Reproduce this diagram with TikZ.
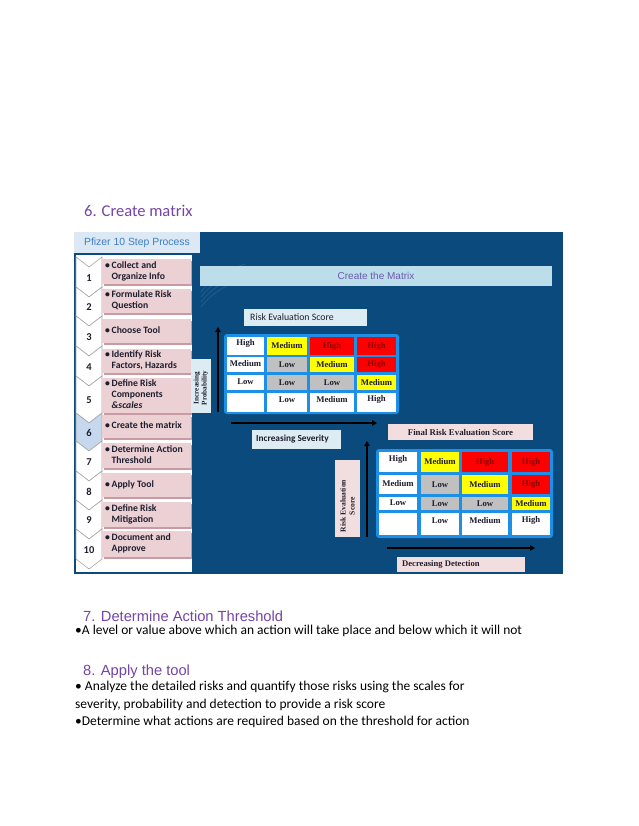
\documentclass[tikz,border=0pt]{standalone}
\usepackage{fontspec}
\setmainfont{Carlito}
\newfontfamily\arialfont{Liberation Sans}
\newfontfamily\timesfont{Liberation Serif}
\usetikzlibrary{arrows.meta,positioning,calc}
\definecolor{panelblue}{HTML}{0B4A7D}
\definecolor{headpurple}{HTML}{7444A6}
\definecolor{tabblue}{HTML}{DCE8F3}
\definecolor{tabtext}{HTML}{3D7EC6}
\definecolor{barblue}{HTML}{BCDDEA}
\definecolor{bartext}{HTML}{6A5AAE}
\definecolor{steppink}{HTML}{EBD0D4}
\definecolor{pinkshade}{HTML}{C99AA2}
\definecolor{chevgray}{HTML}{A6A6A6}
\definecolor{sixblue}{HTML}{C5D8EE}
\definecolor{framebl}{HTML}{1E8FE6}
\definecolor{labelbl}{HTML}{DDEBF3}
\definecolor{labelpk}{HTML}{F2DEDE}
\definecolor{cellyel}{HTML}{FFFF00}
\definecolor{cellred}{HTML}{FF0000}
\definecolor{cellgray}{HTML}{C0C0C0}
\definecolor{redtext}{HTML}{8E0000}
\definecolor{inktext}{HTML}{1E1E2E}

\begin{document}
\begin{tikzpicture}[x=1pt,y=-1pt,
  steptext/.style={anchor=west,inner sep=0pt,text=inktext,font=\fontsize{9.7}{11.2}\selectfont\bfseries},
  stepnum/.style={inner sep=0pt,text=inktext,font=\fontsize{10.5}{12}\selectfont\bfseries},
  celltext/.style={inner sep=0pt,font=\timesfont\bfseries\fontsize{8.7}{9}\selectfont},
  lblbox/.style={inner sep=0pt,minimum width=#1},
  axisarrow/.style={line width=1.6pt,-{Triangle[length=5pt,width=5.5pt]}},
  heading/.style={anchor=base west,inner sep=0pt,text=headpurple},
  bodytext/.style={anchor=base west,inner sep=0pt,text=black,font=\fontsize{13.5}{16}\selectfont}]
  \useasboundingbox (0,0) rectangle (638,826);
  \fill[white] (0,0) rectangle (638,826);

  % panel and tab
  \fill[panelblue] (74,232) rectangle (563,574);
  \foreach \s in {0,5,10,15}{
    \draw[white,opacity=0.12,line width=0.6pt] (201,292+\s) .. controls (212,278+\s) and (225,270+\s) .. (245,264+\s);
  }
  \fill[tabblue] (74,232) rectangle (200,253);
  \node[inner sep=0pt,text=tabtext,font=\arialfont\fontsize{10.4}{12}\selectfont] (tab) at (137,242.5) {Pfizer 10 Step Process};
  \fill[white] (76,255) rectangle (192,572);

  % steps
  \foreach \n/\ct/\cb/\bt/\bb/\txt in {
    1/257/287/259/284/{Collect and\\Organize Info},
    2/287/316/289/313/{Formulate Risk\\Question},
    3/316/346/319/343/{Choose Tool},
    4/346/376/349/373/{Identify Risk\\Factors, Hazards},
    5/376/413/378/413/{Define Risk\\Components\\\textit{\&scales}},
    6/413/441/415/438/{Create the matrix},
    7/441/471/443/468/{Determine Action\\Threshold},
    8/471/500/473/497/{Apply Tool},
    9/500/529/502/527/{Define Risk\\Mitigation},
    10/529/559/531/557/{Document and\\Approve}}{
    \ifnum\n=6 \def\chfill{sixblue}\else\def\chfill{white}\fi
    \filldraw[fill=\chfill,draw=chevgray,line width=0.6pt]
      (76,\ct) -- (89,\ct+10) -- (102,\ct) -- (102,\cb) -- (89,\cb+10) -- (76,\cb) -- cycle;
    \node[stepnum] (num\n) at (89,{(\ct+\cb)/2+6}) {\n};
    \fill[pinkshade] (103.5,\bt+1.5) rectangle (192,\bb+1.5);
    \fill[steppink] (102,\bt) rectangle (190.5,\bb);
    \node[steptext] (step\n) at (105,{(\bt+\bb)/2}) {\textbullet\,\begin{tabular}[t]{@{}l@{}}\txt\end{tabular}};
  }

  % title bar
  \fill[barblue] (200,266) rectangle (552,286);
  \node[inner sep=0pt,text=bartext,font=\arialfont\fontsize{10}{12}\selectfont] (bar) at (376,276) {Create the Matrix};

  % matrix frames
  \fill[framebl,rounded corners=3pt] (224,334) rectangle (399,414);
  \fill[framebl,rounded corners=3pt] (376,449) rectangle (553,538);

  % cells, same scores in both matrices
  \foreach \r/\c/\cf/\tc/\cy/\txt in {
    1/1/white/inktext/0.35/High, 1/2/cellyel/inktext/0.5/Medium, 1/3/cellred/redtext/0.5/High, 1/4/cellred/redtext/0.5/High,
    2/1/white/inktext/0.45/Medium, 2/2/cellgray/inktext/0.5/Low, 2/3/cellyel/inktext/0.5/Medium, 2/4/cellred/redtext/0.5/High,
    3/1/white/inktext/0.45/Low, 3/2/cellgray/inktext/0.5/Low, 3/3/cellgray/inktext/0.5/Low, 3/4/cellyel/inktext/0.5/Medium,
    4/1/white/inktext/0.5/{}, 4/2/white/inktext/0.33/Low, 4/3/white/inktext/0.33/Medium, 4/4/white/inktext/0.33/High}{
    \pgfmathsetmacro\xl{{227,267,310,357}[\c-1]}
    \pgfmathsetmacro\xr{{264,307,354,396}[\c-1]}
    \pgfmathsetmacro\yt{{337,357,375,393}[\r-1]}
    \pgfmathsetmacro\yb{{355,372,390,412}[\r-1]}
    \fill[\cf] (\xl,\yt) rectangle (\xr,\yb);
    \node[celltext,text=\tc] (sev\r\c) at ({(\xl+\xr)/2},{\yt+\cy*(\yb-\yt)}) {\txt};
    \pgfmathsetmacro\xl{{379,421,462,512}[\c-1]}
    \pgfmathsetmacro\xr{{417,459,508,550}[\c-1]}
    \pgfmathsetmacro\yt{{452,475,497,513}[\r-1]}
    \pgfmathsetmacro\yb{{472,494,510,535}[\r-1]}
    \fill[\cf] (\xl,\yt) rectangle (\xr,\yb);
    \node[celltext,text=\tc] (det\r\c) at ({(\xl+\xr)/2},{\yt+\cy*(\yb-\yt)}) {\txt};
  }

  % axis labels
  \node[lblbox=123pt,fill=labelbl,minimum height=17pt] (scorebox) at (305.5,317.5) {};
  \node[anchor=west,inner sep=0pt,text=inktext,font=\fontsize{9.8}{12}\selectfont] (scoretxt) at (250,317.5) {Risk Evaluation Score};
  \node[lblbox=20pt,fill=labelbl,minimum height=54pt] (probbox) at (201,386) {};
  \node[rotate=90,inner sep=0pt,align=center,text=inktext,font=\timesfont\bfseries\fontsize{7.2}{8}\selectfont] (probtxt) at (201,388) {Increasing\\Probability};
  \node[lblbox=89pt,fill=labelbl,minimum height=19pt] (sevbox) at (296.5,439.5) {};
  \node[anchor=west,inner sep=0pt,text=inktext,font=\fontsize{9.3}{11}\selectfont\bfseries] (sevtxt) at (256,439) {Increasing Severity};
  \node[lblbox=145pt,fill=labelpk,minimum height=16pt,text=inktext,font=\timesfont\bfseries\fontsize{8.8}{10}\selectfont] (finaltxt) at (460.5,432) {Final Risk Evaluation Score};
  \node[lblbox=25pt,fill=labelpk,minimum height=77pt] (resbox) at (347.5,498.5) {};
  \node[rotate=90,inner sep=0pt,align=center,text=inktext,font=\timesfont\bfseries\fontsize{7.6}{9}\selectfont] (restxt) at (347.5,506) {Risk Evaluation\\Score};
  \node[lblbox=128pt,fill=labelpk,minimum height=15pt] (detbox) at (461,564.5) {};
  \node[anchor=west,inner sep=0pt,text=inktext,font=\timesfont\bfseries\fontsize{8.6}{10}\selectfont] (dettxt) at (402,564.5) {Decreasing Detection};

  % axes
  \coordinate (probS) at (218,412);
  \coordinate (probE) at (218,327);
  \coordinate (sevS) at (231,423);
  \coordinate (sevE) at (377,423);
  \coordinate (resS) at (367,537);
  \coordinate (resE) at (367,441);
  \coordinate (detS) at (387,548);
  \coordinate (detE) at (535,548);
  \draw[axisarrow] (probS) -- (probE);
  \draw[axisarrow] (sevS) -- (sevE);
  \draw[axisarrow] (resS) -- (resE);
  \draw[axisarrow] (detS) -- (detE);

  % page text
  \node[heading,font=\fontsize{16.5}{20}\selectfont] (h6) at (84,217) {6.\hspace{5pt}Create matrix};
  \node[heading,font=\arialfont\fontsize{14.7}{17}\selectfont] (h7) at (83,621) {7. Determine Action Threshold};
  \node[bodytext] (t7) at (75,634) {\textbullet A level or value above which an action will take place and below which it will not};
  \node[heading,font=\arialfont\fontsize{14.7}{17}\selectfont] (h8) at (83,675) {8. Apply the tool};
  \node[bodytext] (t8a) at (75,690) {\textbullet\ Analyze the detailed risks and quantify those risks using the scales for};
  \node[bodytext] (t8b) at (75,708) {severity, probability and detection to provide a risk score};
  \node[bodytext] (t8c) at (75,725) {\textbullet Determine what actions are required based on the threshold for action};
\end{tikzpicture}
\end{document}
